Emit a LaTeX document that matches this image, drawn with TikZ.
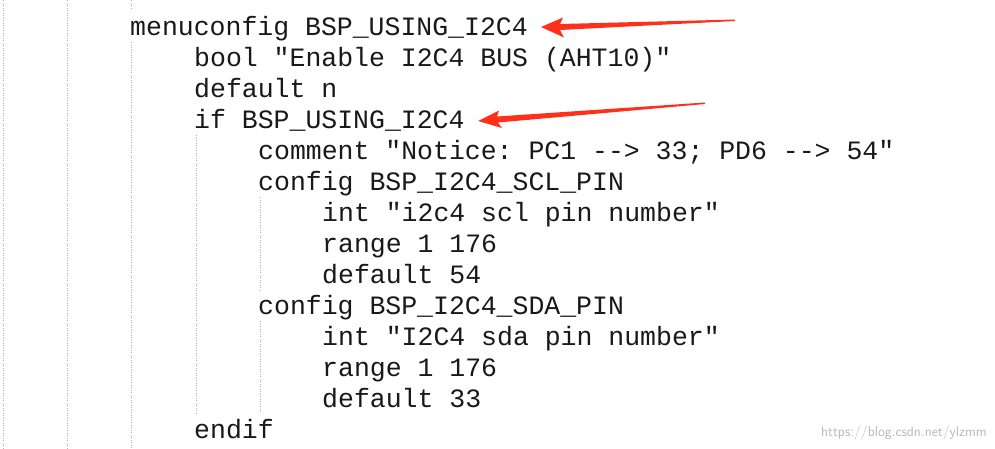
\documentclass[tikz,border=0pt]{standalone}
\usepackage{fontspec}
\setmonofont{Liberation Mono}
\begin{document}
\begin{tikzpicture}[x=1pt,y=-1pt,
  code/.style={anchor=base west,inner sep=0pt,font=\ttfamily\fontsize{26.5}{26.5}\selectfont,text=black!90},
  guide/.style={draw=black!30,line width=0.8pt,dash pattern=on 1pt off 1.5pt},
  redarrow/.style={fill=red!80!orange!90,draw=none}]
\useasboundingbox (0,0) rectangle (995,448);
\fill[white] (0,0) rectangle (995,448);
% guides
\draw[guide] (3,0) -- (3,448);
\draw[guide] (67,0) -- (67,448);
\draw[guide] (131,0) -- (131,8);
\draw[guide] (131,42) -- (131,448);
\draw[guide] (196,135) -- (196,413);
\draw[guide] (260,197) -- (260,290);
\draw[guide] (260,321) -- (260,413);
% code
\node[code] (l1) at (130,35) {menuconfig BSP\_USING\_I2C4};
\node[code] (l2) at (194,66) {bool "Enable I2C4 BUS (AHT10)"};
\node[code] (l3) at (194,97) {default n};
\node[code] (l4) at (194,128) {if BSP\_USING\_I2C4};
\node[code] (l5) at (258,159) {comment "Notice: PC1 --> 33; PD6 --> 54"};
\node[code] (l6) at (258,190) {config BSP\_I2C4\_SCL\_PIN};
\node[code] (l7) at (322,221) {int "i2c4 scl pin number"};
\node[code] (l8) at (322,252) {range 1 176};
\node[code] (l9) at (322,283) {default 54};
\node[code] (l10) at (258,314) {config BSP\_I2C4\_SDA\_PIN};
\node[code] (l11) at (322,345) {int "I2C4 sda pin number"};
\node[code] (l12) at (322,376) {range 1 176};
\node[code] (l13) at (322,407) {default 33};
\node[code] (l14) at (194,438) {endif};
% arrows
\fill[redarrow] (541,27) -- (563,17.5) -- (560,24) -- (735,19.5) -- (735,21) -- (560,30) -- (564,37.5) -- cycle;
\fill[redarrow] (478,121) -- (499,110.5) -- (497,116.5) -- (705,102.5) -- (705,104) -- (498,122.5) -- (502,128) -- cycle;
% watermark
\node[anchor=base east,inner sep=0pt,font=\sffamily\fontsize{14}{14}\selectfont,text=black!28] (wm) at (987,436) {https://blog.csdn.net/ylzmm};
\end{tikzpicture}
\end{document}
